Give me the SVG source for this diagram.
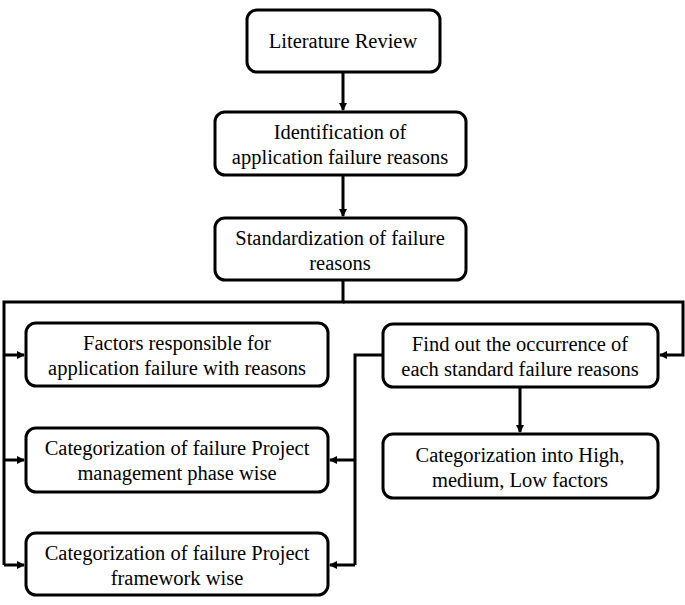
<svg xmlns="http://www.w3.org/2000/svg" width="685" height="605" viewBox="0 0 685 605">
<style>
.b{fill:#fff;stroke:#000;stroke-width:3}
.t{font-family:"Liberation Serif",serif;font-size:20.5px;text-anchor:middle;fill:#000}
.c{fill:none;stroke:#000;stroke-width:3}
</style>
<defs><marker id="a" markerWidth="8" markerHeight="8" refX="7" refY="4" orient="auto" markerUnits="userSpaceOnUse"><path d="M0,0L8,4L0,8z" fill="#000"/></marker></defs>
<rect width="685" height="605" fill="#fff"/>
<g id="connectors">
<path class="c" d="M343,72V110" marker-end="url(#a)"/>
<path class="c" d="M343,175V216" marker-end="url(#a)"/>
<path class="c" d="M343,280V302H4V565"/>
<path class="c" d="M343,302H683V355H660" marker-end="url(#a)"/>
<path class="c" d="M4,355H24" marker-end="url(#a)"/>
<path class="c" d="M4,460H24" marker-end="url(#a)"/>
<path class="c" d="M4,565H24" marker-end="url(#a)"/>
<path class="c" d="M383,355H355V565"/>
<path class="c" d="M355,460H330" marker-end="url(#a)"/>
<path class="c" d="M355,565H330" marker-end="url(#a)"/>
<path class="c" d="M520,387V432" marker-end="url(#a)"/>
</g>
<g id="n1"><rect class="b" x="247" y="10" width="193" height="62" rx="10"/><text class="t" x="343" y="48">Literature Review</text></g>
<g id="n2"><rect class="b" x="215" y="112" width="251" height="63" rx="10"/><text class="t" x="340" y="139">Identification of</text><text class="t" x="340" y="164">application failure reasons</text></g>
<g id="n3"><rect class="b" x="215" y="218" width="251" height="62" rx="10"/><text class="t" x="340" y="245">Standardization of failure</text><text class="t" x="340" y="270">reasons</text></g>
<g id="n4"><rect class="b" x="26" y="323" width="302" height="63" rx="10"/><text class="t" x="177" y="350">Factors responsible for</text><text class="t" x="177" y="375">application failure with reasons</text></g>
<g id="n5"><rect class="b" x="26" y="428" width="302" height="64" rx="10"/><text class="t" x="177" y="455">Categorization of failure Project</text><text class="t" x="177" y="480">management phase wise</text></g>
<g id="n6"><rect class="b" x="26" y="533" width="302" height="62" rx="10"/><text class="t" x="177" y="560">Categorization of failure Project</text><text class="t" x="177" y="585">framework wise</text></g>
<g id="n7"><rect class="b" x="383" y="324" width="275" height="63" rx="10"/><text class="t" x="520" y="351">Find out the occurrence of</text><text class="t" x="520" y="376">each standard failure reasons</text></g>
<g id="n8"><rect class="b" x="383" y="434" width="275" height="64" rx="10"/><text class="t" x="520" y="462">Categorization into High,</text><text class="t" x="520" y="487">medium, Low factors</text></g>
</svg>
